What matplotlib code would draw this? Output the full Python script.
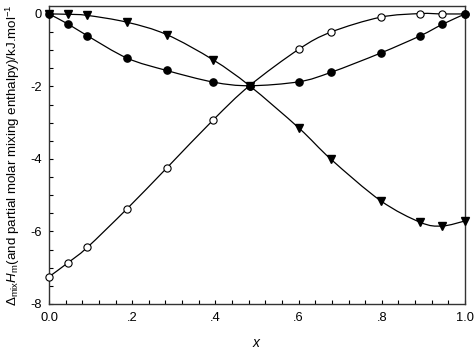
import numpy as np
import matplotlib
matplotlib.use("Agg")
import matplotlib.pyplot as plt
from matplotlib.path import Path
from matplotlib.patches import PathPatch
from matplotlib.ticker import MultipleLocator, FixedLocator

plt.rcParams['font.family'] = ['Liberation Sans', 'DejaVu Sans']
plt.rcParams['mathtext.fontset'] = 'custom'
plt.rcParams['mathtext.rm'] = 'Liberation Sans'
plt.rcParams['mathtext.it'] = 'Liberation Sans:italic'

# data
x = [0.0, 0.046, 0.092, 0.188, 0.283, 0.395, 0.482, 0.601, 0.678, 0.797, 0.893, 0.945, 1.0]
h_mix = [0.0, -0.28, -0.60, -1.22, -1.56, -1.88, -1.98, -1.87, -1.61, -1.08, -0.60, -0.29, 0.0]
h_partial_1 = [-7.25, -6.86, -6.44, -5.37, -4.25, -2.92, -1.98, -0.97, -0.50, -0.09, 0.01, 0.0, 0.0]
h_partial_2 = [0.0, -0.01, -0.04, -0.23, -0.57, -1.27, -1.98, -3.15, -4.01, -5.15, -5.75, -5.85, -5.71]

xtick_vals = [0.0, 0.2, 0.4, 0.6, 0.8, 1.0]
xtick_labels = ['0.0', '.2', '.4', '.6', '.8', '1.0']
ytick_vals = [0, -2, -4, -6, -8]
ytick_labels = ['0', '-2', '-4', '-6', '-8']


def smooth_path(xs, ys):
    """Catmull-Rom spline through the points, as cubic Bezier path."""
    pts = np.column_stack([xs, ys]).astype(float)
    n = len(pts)
    verts = [pts[0]]
    codes = [Path.MOVETO]
    for i in range(n - 1):
        p0 = pts[i - 1] if i > 0 else pts[i]
        p1 = pts[i]
        p2 = pts[i + 1]
        p3 = pts[i + 2] if i + 2 < n else pts[i + 1]
        c1 = p1 + (p2 - p0) / 6.0
        c2 = p2 - (p3 - p1) / 6.0
        verts += [c1, c2, p2]
        codes += [Path.CURVE4] * 3
    return Path(verts, codes)


fig = plt.figure(figsize=(4.74, 3.51), dpi=100)
ax = fig.add_axes([0.1034, 0.134, 0.8776, 0.849])

for ys in (h_mix, h_partial_1, h_partial_2):
    ax.add_patch(PathPatch(smooth_path(x, ys), facecolor='none', edgecolor='black', lw=0.9, zorder=2))

ax.plot(x, h_partial_1, ls='none', marker='o', ms=5.2, mfc='white', mec='black', mew=0.8, zorder=3, clip_on=False)
ax.plot(x, h_mix, ls='none', marker='o', ms=5.2, mfc='black', mec='black', zorder=3, clip_on=False)
ax.plot(x, h_partial_2, ls='none', marker='v', ms=5.8, mfc='black', mec='black', zorder=3, clip_on=False)

ax.set_xlim(0, 1.0)
ax.set_ylim(-8, 0.22)
ax.xaxis.set_major_locator(FixedLocator(xtick_vals))
ax.set_xticklabels(xtick_labels)
ax.xaxis.set_minor_locator(MultipleLocator(0.04))
ax.yaxis.set_major_locator(FixedLocator(ytick_vals))
ax.set_yticklabels(ytick_labels)
ax.yaxis.set_minor_locator(MultipleLocator(0.5))
ax.tick_params(which='both', direction='in', length=3.0, width=0.8, labelsize=9.3, pad=6)
ax.tick_params(axis='y', pad=5)

for s in ax.spines.values():
    s.set_linewidth(1.0)
    s.set_color('#333333')

ax.set_xlabel('$x$', fontsize=10)
ax.set_ylabel(r'$\Delta_{\mathrm{mix}}H_{\mathrm{m}}$(and partial molar mixing enthalpy)/kJ.mol$^{-1}$', fontsize=9.6)
ax.xaxis.set_label_coords(0.5, -0.132)
ax.yaxis.set_label_coords(-0.088, 0.5)
ax.yaxis.label.set_va('center')
ax.xaxis.label.set_va('center')

fig.savefig('out.png', dpi=100)
